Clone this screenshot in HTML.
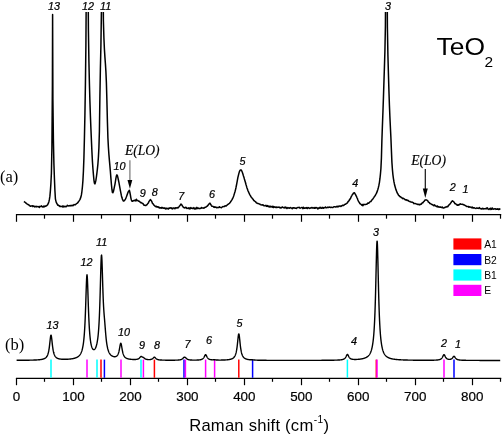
<!DOCTYPE html>
<html><head><meta charset="utf-8"><title>TeO2 Raman</title>
<style>html,body{margin:0;padding:0;background:#fff}svg{display:block}</style></head>
<body>
<svg width="502" height="435" viewBox="0 0 502 435">
<rect width="502" height="435" fill="#fff"/>
<g stroke="#000" stroke-width="1.2" fill="none"><path d="M15.90 214.70 H501.26"/><path d="M16.50 214.70 v7.10"/><path d="M44.50 214.70 v4.00"/><path d="M73.50 214.70 v7.10"/><path d="M101.50 214.70 v4.00"/><path d="M130.50 214.70 v7.10"/><path d="M158.50 214.70 v4.00"/><path d="M187.50 214.70 v7.10"/><path d="M215.50 214.70 v4.00"/><path d="M244.50 214.70 v7.10"/><path d="M272.50 214.70 v4.00"/><path d="M301.50 214.70 v7.10"/><path d="M329.50 214.70 v4.00"/><path d="M358.50 214.70 v7.10"/><path d="M386.50 214.70 v4.00"/><path d="M415.50 214.70 v7.10"/><path d="M443.50 214.70 v4.00"/><path d="M472.50 214.70 v7.10"/><path d="M500.50 214.70 v4.00"/></g>
<g stroke="#000" stroke-width="1.2" fill="none"><path d="M15.90 378.40 H501.26"/><path d="M16.50 378.40 v6.80"/><path d="M44.50 378.40 v3.40"/><path d="M73.50 378.40 v6.80"/><path d="M101.50 378.40 v3.40"/><path d="M130.50 378.40 v6.80"/><path d="M158.50 378.40 v3.40"/><path d="M187.50 378.40 v6.80"/><path d="M215.50 378.40 v3.40"/><path d="M244.50 378.40 v6.80"/><path d="M272.50 378.40 v3.40"/><path d="M301.50 378.40 v6.80"/><path d="M329.50 378.40 v3.40"/><path d="M358.50 378.40 v6.80"/><path d="M386.50 378.40 v3.40"/><path d="M415.50 378.40 v6.80"/><path d="M443.50 378.40 v3.40"/><path d="M472.50 378.40 v6.80"/><path d="M500.50 378.40 v3.40"/></g>
<path d="M51.00 359.6 V377.8" stroke="#00ffff" stroke-width="1.5"/>
<path d="M87.00 359.6 V377.8" stroke="#ff00ff" stroke-width="1.5"/>
<path d="M97.00 359.6 V377.8" stroke="#00ffff" stroke-width="1.5"/>
<path d="M101.00 359.6 V377.8" stroke="#ff0000" stroke-width="1.5"/>
<path d="M104.40 359.6 V377.8" stroke="#0000ff" stroke-width="1.5"/>
<path d="M121.00 359.6 V377.8" stroke="#ff00ff" stroke-width="1.5"/>
<path d="M141.00 359.6 V377.8" stroke="#00ffff" stroke-width="1.5"/>
<path d="M143.40 359.6 V377.8" stroke="#ff00ff" stroke-width="1.5"/>
<path d="M154.40 359.6 V377.8" stroke="#ff0000" stroke-width="1.5"/>
<path d="M184.00 359.6 V377.8" stroke="#0000ff" stroke-width="1.5"/>
<path d="M185.40 359.6 V377.8" stroke="#ff00ff" stroke-width="1.5"/>
<path d="M205.60 359.6 V377.8" stroke="#ff00ff" stroke-width="1.5"/>
<path d="M214.60 359.6 V377.8" stroke="#ff00ff" stroke-width="1.5"/>
<path d="M238.80 359.6 V377.8" stroke="#ff0000" stroke-width="1.5"/>
<path d="M252.60 359.6 V377.8" stroke="#0000ff" stroke-width="1.5"/>
<path d="M347.40 359.6 V377.8" stroke="#00ffff" stroke-width="1.5"/>
<path d="M376.30 359.6 V377.8" stroke="#ff0000" stroke-width="1.5"/>
<path d="M377.00 359.6 V377.8" stroke="#ff00ff" stroke-width="1.5"/>
<path d="M444.00 359.6 V377.8" stroke="#ff00ff" stroke-width="1.5"/>
<path d="M454.00 359.6 V377.8" stroke="#0000ff" stroke-width="1.5"/>
<path d="M23.90 201.50 L24.40 201.81 L24.90 202.26 L25.40 202.37 L25.90 203.09 L26.40 203.47 L26.90 203.89 L27.40 204.10 L27.90 204.53 L28.40 204.72 L28.90 204.81 L29.40 205.59 L29.90 205.83 L30.40 206.27 L30.90 205.97 L31.40 205.93 L31.90 205.98 L32.40 205.73 L32.90 206.62 L33.40 206.00 L33.90 206.03 L34.40 206.41 L34.90 207.03 L35.40 206.64 L35.90 206.23 L36.40 206.37 L36.90 206.88 L37.40 206.62 L37.90 206.43 L38.40 206.65 L38.90 207.03 L39.40 207.50 L39.90 206.33 L40.40 206.56 L40.90 206.49 L41.40 205.89 L41.90 206.45 L42.40 206.40 L42.90 207.13 L43.40 206.65 L43.90 206.10 L44.40 206.79 L44.90 206.40 L45.40 205.90 L45.90 206.16 L46.40 205.91 L46.90 205.45 L47.40 205.04 L47.90 204.08 L48.40 203.22 L48.90 201.64 L49.40 199.39 L49.90 196.19 L50.40 190.69 L50.90 183.48 L51.40 173.25 L51.90 148.35 L52.40 85.47 L52.60 14.50 L52.90 100.00 L53.40 140.01 L53.90 163.53 L54.40 178.01 L54.90 190.34 L55.40 198.83 L55.90 201.11 L56.40 202.69 L56.90 203.59 L57.40 204.47 L57.90 205.24 L58.40 205.05 L58.90 205.78 L59.40 205.80 L59.90 206.51 L60.40 206.32 L60.90 206.49 L61.40 206.59 L61.90 206.56 L62.40 206.08 L62.90 207.09 L63.40 206.08 L63.90 206.68 L64.40 206.79 L64.90 206.24 L65.40 206.54 L65.90 206.83 L66.40 206.37 L66.90 206.02 L67.40 205.30 L67.90 205.85 L68.40 205.89 L68.90 205.83 L69.40 205.60 L69.90 205.94 L70.40 205.55 L70.90 205.61 L71.40 205.75 L71.90 205.18 L72.40 205.24 L72.90 205.83 L73.40 205.31 L73.90 204.56 L74.40 204.73 L74.90 204.71 L75.40 204.68 L75.90 204.18 L76.40 203.77 L76.90 203.39 L77.40 203.16 L77.90 202.54 L78.40 201.77 L78.90 201.12 L79.40 200.34 L79.90 199.61 L80.40 198.38 L80.90 197.07 L81.40 194.94 L81.90 191.52 L82.40 186.99 L82.90 180.84 L83.40 171.51 L83.90 158.36 L84.40 138.84 L84.90 115.37 L85.40 85.00 L85.90 44.94 L86.13 12.00 M88.29 12.00 L88.40 29.23 L88.90 61.00 L89.40 83.01 L89.90 100.91 L90.40 115.73 L90.90 128.41 L91.40 139.99 L91.90 151.17 L92.40 160.97 L92.90 168.21 L93.40 174.42 L93.90 179.79 L94.40 183.18 L94.90 183.95 L95.40 182.44 L95.90 180.22 L96.40 177.00 L96.90 173.11 L97.40 168.82 L97.90 164.02 L98.40 157.31 L98.90 147.67 L99.40 131.43 L99.90 96.35 L100.40 67.85 L100.90 45.91 L101.40 12.00 M103.34 12.00 L103.40 20.90 L103.90 37.85 L104.40 49.06 L104.90 56.84 L105.40 63.63 L105.90 71.51 L106.40 82.98 L106.90 100.73 L107.40 121.24 L107.90 137.78 L108.40 147.20 L108.90 154.37 L109.40 160.35 L109.90 165.87 L110.40 171.80 L110.90 178.16 L111.40 184.25 L111.90 189.22 L112.40 192.33 L112.90 192.79 L113.40 191.56 L113.90 189.35 L114.40 186.82 L114.90 184.54 L115.40 181.60 L115.90 178.44 L116.40 175.81 L116.90 174.88 L117.40 175.74 L117.90 177.68 L118.40 179.97 L118.90 182.36 L119.40 185.17 L119.90 187.86 L120.40 190.64 L120.90 193.23 L121.40 195.72 L121.90 197.61 L122.40 199.11 L122.90 200.20 L123.40 201.04 L123.90 201.12 L124.40 200.54 L124.90 199.93 L125.40 199.08 L125.90 198.05 L126.40 196.83 L126.90 195.49 L127.40 194.10 L127.90 192.64 L128.40 191.53 L128.90 190.93 L129.40 190.32 L129.90 192.50 L130.40 195.14 L130.90 198.11 L131.40 199.99 L131.90 201.08 L132.40 201.31 L132.90 200.96 L133.40 200.71 L133.90 200.58 L134.40 200.20 L134.90 200.73 L135.40 200.14 L135.90 200.84 L136.40 199.31 L136.90 200.30 L137.40 200.54 L137.90 200.49 L138.40 201.07 L138.90 201.24 L139.40 201.31 L139.90 201.78 L140.40 202.62 L140.90 202.47 L141.40 202.85 L141.90 203.04 L142.40 203.50 L142.90 203.60 L143.40 204.21 L143.90 205.13 L144.40 205.17 L144.90 205.30 L145.40 205.60 L145.90 205.58 L146.40 204.92 L146.90 204.77 L147.40 204.09 L147.90 203.42 L148.40 203.01 L148.90 201.60 L149.40 200.87 L149.90 200.25 L150.40 199.55 L150.90 200.17 L151.40 200.87 L151.90 201.83 L152.40 203.19 L152.90 203.66 L153.40 204.25 L153.90 205.12 L154.40 205.45 L154.90 206.09 L155.40 206.26 L155.90 206.82 L156.40 206.23 L156.90 206.99 L157.40 206.97 L157.90 206.74 L158.40 207.52 L158.90 207.09 L159.40 207.94 L159.90 207.74 L160.40 207.90 L160.90 207.80 L161.40 208.15 L161.90 207.28 L162.40 207.99 L162.90 207.80 L163.40 208.15 L163.90 208.09 L164.40 208.36 L164.90 207.90 L165.40 208.87 L165.90 209.07 L166.40 208.22 L166.90 208.31 L167.40 208.45 L167.90 208.82 L168.40 209.08 L168.90 207.94 L169.40 208.17 L169.90 208.00 L170.40 207.98 L170.90 207.78 L171.40 208.53 L171.90 207.95 L172.40 208.93 L172.90 208.70 L173.40 207.97 L173.90 207.96 L174.40 208.10 L174.90 208.80 L175.40 207.98 L175.90 207.73 L176.40 208.07 L176.90 208.04 L177.40 207.59 L177.90 207.98 L178.40 207.40 L178.90 206.98 L179.40 206.14 L179.90 205.57 L180.40 204.95 L180.90 203.99 L181.40 204.76 L181.90 204.93 L182.40 205.93 L182.90 206.43 L183.40 207.57 L183.90 207.44 L184.40 207.76 L184.90 207.93 L185.40 207.41 L185.90 207.22 L186.40 207.91 L186.90 208.38 L187.40 208.18 L187.90 208.47 L188.40 208.56 L188.90 207.73 L189.40 208.39 L189.90 209.02 L190.40 208.14 L190.90 207.64 L191.40 208.31 L191.90 208.25 L192.40 208.59 L192.90 208.12 L193.40 208.50 L193.90 207.66 L194.40 208.80 L194.90 209.09 L195.40 208.99 L195.90 207.92 L196.40 208.62 L196.90 207.38 L197.40 208.58 L197.90 208.43 L198.40 208.08 L198.90 208.53 L199.40 208.42 L199.90 208.66 L200.40 208.33 L200.90 208.32 L201.40 207.53 L201.90 207.75 L202.40 207.92 L202.90 208.11 L203.40 207.93 L203.90 208.26 L204.40 207.44 L204.90 207.43 L205.40 207.35 L205.90 207.00 L206.40 206.84 L206.90 206.20 L207.40 206.04 L207.90 205.25 L208.40 204.82 L208.90 203.97 L209.40 203.84 L209.90 203.11 L210.40 204.04 L210.90 204.71 L211.40 205.60 L211.90 206.30 L212.40 206.15 L212.90 206.38 L213.40 206.69 L213.90 207.20 L214.40 206.73 L214.90 207.41 L215.40 207.08 L215.90 207.20 L216.40 207.51 L216.90 207.81 L217.40 207.46 L217.90 207.51 L218.40 207.64 L218.90 207.51 L219.40 206.68 L219.90 207.31 L220.40 207.37 L220.90 207.57 L221.40 207.75 L221.90 207.22 L222.40 206.93 L222.90 206.49 L223.40 206.62 L223.90 206.63 L224.40 206.56 L224.90 205.81 L225.40 205.90 L225.90 205.85 L226.40 205.88 L226.90 205.24 L227.40 204.79 L227.90 204.46 L228.40 204.16 L228.90 203.66 L229.40 203.39 L229.90 202.84 L230.40 202.14 L230.90 201.50 L231.40 200.53 L231.90 199.85 L232.40 198.85 L232.90 197.83 L233.40 196.73 L233.90 195.28 L234.40 193.65 L234.90 192.05 L235.40 190.11 L235.90 187.97 L236.40 185.52 L236.90 182.80 L237.40 180.03 L237.90 177.41 L238.40 175.34 L238.90 173.34 L239.40 171.61 L239.90 170.70 L240.40 169.94 L240.90 169.90 L241.40 170.22 L241.90 171.28 L242.40 172.50 L242.90 174.00 L243.40 175.70 L243.90 177.15 L244.40 179.01 L244.90 180.66 L245.40 182.25 L245.90 184.19 L246.40 185.90 L246.90 187.65 L247.40 189.05 L247.90 190.50 L248.40 191.67 L248.90 192.77 L249.40 193.97 L249.90 194.85 L250.40 195.63 L250.90 196.67 L251.40 197.22 L251.90 197.90 L252.40 198.59 L252.90 199.06 L253.40 199.78 L253.90 200.72 L254.40 200.73 L254.90 201.37 L255.40 201.61 L255.90 202.12 L256.40 202.93 L256.90 203.17 L257.40 203.15 L257.90 203.55 L258.40 203.57 L258.90 203.78 L259.40 203.93 L259.90 204.10 L260.40 204.60 L260.90 204.83 L261.40 204.94 L261.90 204.88 L262.40 204.66 L262.90 205.16 L263.40 205.02 L263.90 205.67 L264.40 205.69 L264.90 205.85 L265.40 205.62 L265.90 205.27 L266.40 206.22 L266.90 206.39 L267.40 205.63 L267.90 206.22 L268.40 206.64 L268.90 205.98 L269.40 206.98 L269.90 206.35 L270.40 206.18 L270.90 207.05 L271.40 206.77 L271.90 206.52 L272.40 207.09 L272.90 206.22 L273.40 207.53 L273.90 206.71 L274.40 207.14 L274.90 206.96 L275.40 207.30 L275.90 207.50 L276.40 206.97 L276.90 207.56 L277.40 207.23 L277.90 207.14 L278.40 207.33 L278.90 207.09 L279.40 207.19 L279.90 207.84 L280.40 207.46 L280.90 207.95 L281.40 207.72 L281.90 207.21 L282.40 206.91 L282.90 207.37 L283.40 207.74 L283.90 207.66 L284.40 207.38 L284.90 208.06 L285.40 207.08 L285.90 207.27 L286.40 207.79 L286.90 208.57 L287.40 207.93 L287.90 207.43 L288.40 208.03 L288.90 208.08 L289.40 208.19 L289.90 207.70 L290.40 207.57 L290.90 207.92 L291.40 208.05 L291.90 208.50 L292.40 208.69 L292.90 207.65 L293.40 207.74 L293.90 207.92 L294.40 207.86 L294.90 208.14 L295.40 208.15 L295.90 208.07 L296.40 208.48 L296.90 207.93 L297.40 207.59 L297.90 207.40 L298.40 207.61 L298.90 207.60 L299.40 207.29 L299.90 208.25 L300.40 208.07 L300.90 207.84 L301.40 207.66 L301.90 207.40 L302.40 207.65 L302.90 208.69 L303.40 207.16 L303.90 208.05 L304.40 208.27 L304.90 208.04 L305.40 207.86 L305.90 208.27 L306.40 207.56 L306.90 208.18 L307.40 208.51 L307.90 207.57 L308.40 207.65 L308.90 208.01 L309.40 208.32 L309.90 208.45 L310.40 208.20 L310.90 207.69 L311.40 207.51 L311.90 208.02 L312.40 208.07 L312.90 207.50 L313.40 207.93 L313.90 208.02 L314.40 208.28 L314.90 207.52 L315.40 208.09 L315.90 207.43 L316.40 207.70 L316.90 207.82 L317.40 208.41 L317.90 209.07 L318.40 207.92 L318.90 208.00 L319.40 208.19 L319.90 207.30 L320.40 208.07 L320.90 207.32 L321.40 208.35 L321.90 208.26 L322.40 207.90 L322.90 207.41 L323.40 208.26 L323.90 207.73 L324.40 207.65 L324.90 207.78 L325.40 206.94 L325.90 207.66 L326.40 207.82 L326.90 207.55 L327.40 207.45 L327.90 207.03 L328.40 207.55 L328.90 207.35 L329.40 207.25 L329.90 207.01 L330.40 207.47 L330.90 207.57 L331.40 207.23 L331.90 207.37 L332.40 207.49 L332.90 207.54 L333.40 207.02 L333.90 206.83 L334.40 206.72 L334.90 206.83 L335.40 206.96 L335.90 207.05 L336.40 206.53 L336.90 206.67 L337.40 206.23 L337.90 206.92 L338.40 206.31 L338.90 206.49 L339.40 206.06 L339.90 206.12 L340.40 205.92 L340.90 206.54 L341.40 206.01 L341.90 205.73 L342.40 205.36 L342.90 205.29 L343.40 205.41 L343.90 205.48 L344.40 204.49 L344.90 204.38 L345.40 204.30 L345.90 203.92 L346.40 203.40 L346.90 203.27 L347.40 202.84 L347.90 201.86 L348.40 201.43 L348.90 200.79 L349.40 200.04 L349.90 199.09 L350.40 198.62 L350.90 197.44 L351.40 196.28 L351.90 195.55 L352.40 194.48 L352.90 194.10 L353.40 193.11 L353.90 193.08 L354.40 192.72 L354.90 193.57 L355.40 194.42 L355.90 195.37 L356.40 196.29 L356.90 197.55 L357.40 198.53 L357.90 199.98 L358.40 201.08 L358.90 201.95 L359.40 202.61 L359.90 203.66 L360.40 203.65 L360.90 204.27 L361.40 204.57 L361.90 205.23 L362.40 204.45 L362.90 205.74 L363.40 204.83 L363.90 204.29 L364.40 204.53 L364.90 204.63 L365.40 204.56 L365.90 204.32 L366.40 204.37 L366.90 203.95 L367.40 203.73 L367.90 202.99 L368.40 203.34 L368.90 203.15 L369.40 202.52 L369.90 201.88 L370.40 201.59 L370.90 201.62 L371.40 200.69 L371.90 200.09 L372.40 199.42 L372.90 198.97 L373.40 198.09 L373.90 197.34 L374.40 196.52 L374.90 195.95 L375.40 195.28 L375.90 194.24 L376.40 193.36 L376.90 192.16 L377.40 190.87 L377.90 189.31 L378.40 187.41 L378.90 185.22 L379.40 182.55 L379.90 178.97 L380.40 174.43 L380.90 168.73 L381.40 158.34 L381.90 140.00 L382.40 126.05 L382.90 112.80 L383.40 98.60 L383.90 83.01 L384.40 67.83 L384.90 51.54 L385.40 26.32 L385.48 12.00 M387.32 12.00 L387.40 27.60 L387.90 54.88 L388.40 72.85 L388.90 89.88 L389.40 104.77 L389.90 117.07 L390.40 127.48 L390.90 137.79 L391.40 150.16 L391.90 162.10 L392.40 169.32 L392.90 174.59 L393.40 178.29 L393.90 181.49 L394.40 183.97 L394.90 185.97 L395.40 187.81 L395.90 189.62 L396.40 190.81 L396.90 192.15 L397.40 193.30 L397.90 193.95 L398.40 194.95 L398.90 195.67 L399.40 195.81 L399.90 196.64 L400.40 196.69 L400.90 197.05 L401.40 197.65 L401.90 197.97 L402.40 198.06 L402.90 198.65 L403.40 198.33 L403.90 198.70 L404.40 198.86 L404.90 199.54 L405.40 199.78 L405.90 199.97 L406.40 199.69 L406.90 200.26 L407.40 200.55 L407.90 200.22 L408.40 200.63 L408.90 201.21 L409.40 201.43 L409.90 201.51 L410.40 201.78 L410.90 201.92 L411.40 202.08 L411.90 202.21 L412.40 202.22 L412.90 202.60 L413.40 202.79 L413.90 203.69 L414.40 203.39 L414.90 203.50 L415.40 203.59 L415.90 203.77 L416.40 203.87 L416.90 204.25 L417.40 204.21 L417.90 204.58 L418.40 204.23 L418.90 204.64 L419.40 204.88 L419.90 204.18 L420.40 204.58 L420.90 204.35 L421.40 203.87 L421.90 203.40 L422.40 202.69 L422.90 202.79 L423.40 201.97 L423.90 201.35 L424.40 201.02 L424.90 200.03 L425.40 200.12 L425.90 199.85 L426.40 199.95 L426.90 200.13 L427.40 200.49 L427.90 201.01 L428.40 202.14 L428.90 202.33 L429.40 202.71 L429.90 203.52 L430.40 203.46 L430.90 203.90 L431.40 204.24 L431.90 204.57 L432.40 204.61 L432.90 204.94 L433.40 205.62 L433.90 205.67 L434.40 204.84 L434.90 205.27 L435.40 206.06 L435.90 206.07 L436.40 206.13 L436.90 206.67 L437.40 205.94 L437.90 206.94 L438.40 206.72 L438.90 206.95 L439.40 206.97 L439.90 207.25 L440.40 207.01 L440.90 207.01 L441.40 207.52 L441.90 207.40 L442.40 206.98 L442.90 207.92 L443.40 207.92 L443.90 208.05 L444.40 207.51 L444.90 207.52 L445.40 207.19 L445.90 206.89 L446.40 206.99 L446.90 206.81 L447.40 206.39 L447.90 206.62 L448.40 205.53 L448.90 205.12 L449.40 204.52 L449.90 204.19 L450.40 203.37 L450.90 202.77 L451.40 202.00 L451.90 201.36 L452.40 200.74 L452.90 201.21 L453.40 201.38 L453.90 202.10 L454.40 202.67 L454.90 203.82 L455.40 203.67 L455.90 203.90 L456.40 204.61 L456.90 204.97 L457.40 205.28 L457.90 204.62 L458.40 205.01 L458.90 205.17 L459.40 204.30 L459.90 204.20 L460.40 203.80 L460.90 204.28 L461.40 204.37 L461.90 204.29 L462.40 204.29 L462.90 204.48 L463.40 204.42 L463.90 204.95 L464.40 204.95 L464.90 205.27 L465.40 205.73 L465.90 205.66 L466.40 206.22 L466.90 206.62 L467.40 206.53 L467.90 206.38 L468.40 206.51 L468.90 207.26 L469.40 206.74 L469.90 207.11 L470.40 207.11 L470.90 207.30 L471.40 207.72 L471.90 207.29 L472.40 207.09 L472.90 208.09 L473.40 207.77 L473.90 208.00 L474.40 207.82 L474.90 208.14 L475.40 208.37 L475.90 208.46 L476.40 207.94 L476.90 207.96 L477.40 208.26 L477.90 208.24 L478.40 208.40 L478.90 208.00 L479.40 207.47 L479.90 208.47 L480.40 208.63 L480.90 208.61 L481.40 209.00 L481.90 208.75 L482.40 208.33 L482.90 208.85 L483.40 208.49 L483.90 209.00 L484.40 208.66 L484.90 208.76 L485.40 208.70 L485.90 208.66 L486.40 208.12 L486.90 208.70 L487.40 207.88 L487.90 208.91 L488.40 209.11 L488.90 209.51 L489.40 208.92 L489.90 208.55 L490.40 208.25 L490.90 209.56 L491.40 208.35 L491.90 209.21 L492.40 208.06 L492.90 208.90 L493.40 209.19 L493.90 209.07 L494.40 208.95 L494.90 208.68 L495.40 208.67 L495.90 209.38 L496.40 209.19 L496.90 208.98 L497.40 209.13 L497.90 208.72 L498.40 209.45 L498.90 209.55 L499.40 208.79 L499.90 209.13 L500.40 209.49 " fill="none" stroke="#000" stroke-width="1.5" stroke-linejoin="round"/>
<path d="M16.60 360.32 L16.80 360.32 L17.00 360.32 L17.20 360.32 L17.40 360.32 L17.60 360.32 L17.80 360.31 L18.00 360.31 L18.20 360.31 L18.40 360.31 L18.60 360.31 L18.80 360.31 L19.00 360.31 L19.20 360.30 L19.40 360.30 L19.60 360.30 L19.80 360.30 L20.00 360.30 L20.20 360.30 L20.40 360.29 L20.60 360.29 L20.80 360.29 L21.00 360.29 L21.20 360.29 L21.40 360.29 L21.60 360.28 L21.80 360.28 L22.00 360.28 L22.20 360.28 L22.40 360.28 L22.60 360.27 L22.80 360.27 L23.00 360.27 L23.20 360.27 L23.40 360.27 L23.60 360.26 L23.80 360.26 L24.00 360.26 L24.20 360.26 L24.40 360.25 L24.60 360.25 L24.80 360.25 L25.00 360.25 L25.20 360.24 L25.40 360.24 L25.60 360.24 L25.80 360.24 L26.00 360.23 L26.20 360.23 L26.40 360.23 L26.60 360.23 L26.80 360.22 L27.00 360.22 L27.20 360.22 L27.40 360.21 L27.60 360.21 L27.80 360.21 L28.00 360.20 L28.20 360.20 L28.40 360.20 L28.60 360.19 L28.80 360.19 L29.00 360.19 L29.20 360.18 L29.40 360.18 L29.60 360.17 L29.80 360.17 L30.00 360.17 L30.20 360.16 L30.40 360.16 L30.60 360.15 L30.80 360.15 L31.00 360.14 L31.20 360.14 L31.40 360.13 L31.60 360.13 L31.80 360.12 L32.00 360.12 L32.20 360.11 L32.40 360.11 L32.60 360.10 L32.80 360.09 L33.00 360.09 L33.20 360.08 L33.40 360.08 L33.60 360.07 L33.80 360.06 L34.00 360.05 L34.20 360.05 L34.40 360.04 L34.60 360.03 L34.80 360.02 L35.00 360.01 L35.20 360.01 L35.40 360.00 L35.60 359.99 L35.80 359.98 L36.00 359.97 L36.20 359.96 L36.40 359.95 L36.60 359.94 L36.80 359.92 L37.00 359.91 L37.20 359.90 L37.40 359.89 L37.60 359.87 L37.80 359.86 L38.00 359.84 L38.20 359.83 L38.40 359.81 L38.60 359.80 L38.80 359.78 L39.00 359.76 L39.20 359.74 L39.40 359.72 L39.60 359.70 L39.80 359.68 L40.00 359.66 L40.20 359.63 L40.40 359.61 L40.60 359.58 L40.80 359.55 L41.00 359.52 L41.20 359.49 L41.40 359.46 L41.60 359.42 L41.80 359.39 L42.00 359.35 L42.20 359.30 L42.40 359.26 L42.60 359.21 L42.80 359.16 L43.00 359.11 L43.20 359.05 L43.40 358.98 L43.60 358.92 L43.80 358.84 L44.00 358.77 L44.20 358.68 L44.40 358.59 L44.60 358.49 L44.80 358.38 L45.00 358.27 L45.20 358.14 L45.40 358.00 L45.60 357.84 L45.80 357.67 L46.00 357.49 L46.20 357.28 L46.40 357.05 L46.60 356.79 L46.80 356.51 L47.00 356.19 L47.20 355.83 L47.40 355.42 L47.60 354.96 L47.80 354.44 L48.00 353.84 L48.20 353.16 L48.40 352.39 L48.60 351.50 L48.80 350.49 L49.00 349.33 L49.20 348.02 L49.40 346.55 L49.60 344.92 L49.80 343.16 L50.00 341.31 L50.20 339.48 L50.40 337.78 L50.60 336.39 L50.80 335.47 L51.00 335.14 L51.20 335.46 L51.40 336.38 L51.60 337.76 L51.80 339.45 L52.00 341.28 L52.20 343.12 L52.40 344.88 L52.60 346.50 L52.80 347.96 L53.00 349.27 L53.20 350.42 L53.40 351.42 L53.60 352.30 L53.80 353.07 L54.00 353.74 L54.20 354.33 L54.40 354.84 L54.60 355.30 L54.80 355.70 L55.00 356.05 L55.20 356.36 L55.40 356.64 L55.60 356.89 L55.80 357.11 L56.00 357.31 L56.20 357.49 L56.40 357.66 L56.60 357.80 L56.80 357.93 L57.00 358.06 L57.20 358.17 L57.40 358.27 L57.60 358.36 L57.80 358.44 L58.00 358.52 L58.20 358.59 L58.40 358.65 L58.60 358.71 L58.80 358.76 L59.00 358.81 L59.20 358.86 L59.40 358.90 L59.60 358.94 L59.80 358.98 L60.00 359.01 L60.20 359.04 L60.40 359.07 L60.60 359.09 L60.80 359.12 L61.00 359.14 L61.20 359.16 L61.40 359.18 L61.60 359.19 L61.80 359.21 L62.00 359.22 L62.20 359.24 L62.40 359.25 L62.60 359.26 L62.80 359.27 L63.00 359.27 L63.20 359.28 L63.40 359.29 L63.60 359.29 L63.80 359.29 L64.00 359.30 L64.20 359.30 L64.40 359.30 L64.60 359.30 L64.80 359.30 L65.00 359.30 L65.20 359.30 L65.40 359.29 L65.60 359.29 L65.80 359.28 L66.00 359.28 L66.20 359.27 L66.40 359.27 L66.60 359.26 L66.80 359.25 L67.00 359.24 L67.20 359.23 L67.40 359.22 L67.60 359.21 L67.80 359.20 L68.00 359.19 L68.20 359.18 L68.40 359.16 L68.60 359.15 L68.80 359.13 L69.00 359.12 L69.20 359.10 L69.40 359.08 L69.60 359.07 L69.80 359.05 L70.00 359.03 L70.20 359.00 L70.40 358.98 L70.60 358.96 L70.80 358.94 L71.00 358.91 L71.20 358.88 L71.40 358.86 L71.60 358.83 L71.80 358.80 L72.00 358.77 L72.20 358.73 L72.40 358.70 L72.60 358.66 L72.80 358.63 L73.00 358.59 L73.20 358.55 L73.40 358.51 L73.60 358.46 L73.80 358.41 L74.00 358.37 L74.20 358.32 L74.40 358.26 L74.60 358.21 L74.80 358.15 L75.00 358.09 L75.20 358.02 L75.40 357.96 L75.60 357.89 L75.80 357.81 L76.00 357.73 L76.20 357.65 L76.40 357.56 L76.60 357.47 L76.80 357.38 L77.00 357.27 L77.20 357.17 L77.40 357.05 L77.60 356.93 L77.80 356.80 L78.00 356.67 L78.20 356.52 L78.40 356.37 L78.60 356.21 L78.80 356.03 L79.00 355.84 L79.20 355.64 L79.40 355.43 L79.60 355.20 L79.80 354.95 L80.00 354.68 L80.20 354.39 L80.40 354.08 L80.60 353.74 L80.80 353.37 L81.00 352.96 L81.20 352.53 L81.40 352.05 L81.60 351.52 L81.80 350.94 L82.00 350.30 L82.20 349.60 L82.40 348.81 L82.60 347.94 L82.80 346.97 L83.00 345.88 L83.20 344.65 L83.40 343.28 L83.60 341.72 L83.80 339.95 L84.00 337.93 L84.20 335.64 L84.40 333.02 L84.60 330.02 L84.80 326.60 L85.00 322.70 L85.20 318.28 L85.40 313.31 L85.60 307.81 L85.80 301.86 L86.00 295.64 L86.20 289.45 L86.40 283.73 L86.60 279.02 L86.80 275.89 L87.00 274.77 L87.20 275.81 L87.40 278.85 L87.60 283.46 L87.80 289.10 L88.00 295.20 L88.20 301.34 L88.40 307.19 L88.60 312.60 L88.80 317.47 L89.00 321.80 L89.20 325.60 L89.40 328.93 L89.60 331.82 L89.80 334.33 L90.00 336.52 L90.20 338.42 L90.40 340.07 L90.60 341.51 L90.80 342.77 L91.00 343.86 L91.20 344.81 L91.40 345.65 L91.60 346.37 L91.80 347.00 L92.00 347.54 L92.20 348.01 L92.40 348.40 L92.60 348.74 L92.80 349.02 L93.00 349.24 L93.20 349.41 L93.40 349.54 L93.60 349.62 L93.80 349.65 L94.00 349.64 L94.20 349.58 L94.40 349.49 L94.60 349.34 L94.80 349.15 L95.00 348.91 L95.20 348.62 L95.40 348.27 L95.60 347.86 L95.80 347.40 L96.00 346.86 L96.20 346.26 L96.40 345.59 L96.60 344.84 L96.80 344.02 L97.00 343.10 L97.20 342.09 L97.40 340.96 L97.60 339.68 L97.80 338.24 L98.00 336.59 L98.20 334.70 L98.40 332.53 L98.60 330.04 L98.80 327.16 L99.00 323.86 L99.20 320.06 L99.40 315.71 L99.60 310.73 L99.80 305.10 L100.00 298.80 L100.20 291.88 L100.40 284.49 L100.60 276.92 L100.80 269.59 L101.00 263.12 L101.20 258.17 L101.40 255.36 L101.60 255.04 L101.80 257.21 L102.00 261.50 L102.20 267.28 L102.40 273.86 L102.60 280.64 L102.80 287.16 L103.00 293.13 L103.20 298.41 L103.40 302.95 L103.60 306.81 L103.80 310.07 L104.00 312.87 L104.20 315.38 L104.40 317.75 L104.60 320.11 L104.80 322.55 L105.00 325.07 L105.20 327.65 L105.40 330.20 L105.60 332.67 L105.80 335.00 L106.00 337.14 L106.20 339.09 L106.40 340.85 L106.60 342.43 L106.80 343.83 L107.00 345.08 L107.20 346.20 L107.40 347.20 L107.60 348.10 L107.80 348.90 L108.00 349.62 L108.20 350.27 L108.40 350.86 L108.60 351.39 L108.80 351.88 L109.00 352.32 L109.20 352.72 L109.40 353.09 L109.60 353.43 L109.80 353.74 L110.00 354.03 L110.20 354.29 L110.40 354.53 L110.60 354.75 L110.80 354.96 L111.00 355.15 L111.20 355.33 L111.40 355.49 L111.60 355.64 L111.80 355.78 L112.00 355.90 L112.20 356.02 L112.40 356.13 L112.60 356.22 L112.80 356.31 L113.00 356.39 L113.20 356.46 L113.40 356.52 L113.60 356.57 L113.80 356.62 L114.00 356.65 L114.20 356.68 L114.40 356.70 L114.60 356.71 L114.80 356.71 L115.00 356.70 L115.20 356.68 L115.40 356.64 L115.60 356.60 L115.80 356.54 L116.00 356.46 L116.20 356.37 L116.40 356.26 L116.60 356.13 L116.80 355.97 L117.00 355.79 L117.20 355.57 L117.40 355.32 L117.60 355.03 L117.80 354.69 L118.00 354.30 L118.20 353.84 L118.40 353.31 L118.60 352.70 L118.80 351.99 L119.00 351.19 L119.20 350.28 L119.40 349.27 L119.60 348.17 L119.80 347.02 L120.00 345.87 L120.20 344.82 L120.40 343.95 L120.60 343.39 L120.80 343.21 L121.00 343.44 L121.20 344.05 L121.40 344.96 L121.60 346.06 L121.80 347.25 L122.00 348.45 L122.20 349.60 L122.40 350.65 L122.60 351.61 L122.80 352.47 L123.00 353.22 L123.20 353.88 L123.40 354.46 L123.60 354.97 L123.80 355.42 L124.00 355.81 L124.20 356.16 L124.40 356.47 L124.60 356.74 L124.80 356.98 L125.00 357.20 L125.20 357.39 L125.40 357.56 L125.60 357.72 L125.80 357.86 L126.00 357.99 L126.20 358.11 L126.40 358.22 L126.60 358.31 L126.80 358.40 L127.00 358.49 L127.20 358.56 L127.40 358.63 L127.60 358.70 L127.80 358.76 L128.00 358.81 L128.20 358.87 L128.40 358.91 L128.60 358.96 L128.80 359.00 L129.00 359.04 L129.20 359.08 L129.40 359.11 L129.60 359.15 L129.80 359.18 L130.00 359.20 L130.20 359.23 L130.40 359.26 L130.60 359.28 L130.80 359.30 L131.00 359.32 L131.20 359.34 L131.40 359.36 L131.60 359.38 L131.80 359.39 L132.00 359.40 L132.20 359.42 L132.40 359.43 L132.60 359.44 L132.80 359.45 L133.00 359.46 L133.20 359.46 L133.40 359.47 L133.60 359.47 L133.80 359.48 L134.00 359.48 L134.20 359.48 L134.40 359.48 L134.60 359.48 L134.80 359.47 L135.00 359.47 L135.20 359.46 L135.40 359.45 L135.60 359.44 L135.80 359.43 L136.00 359.41 L136.20 359.39 L136.40 359.37 L136.60 359.34 L136.80 359.31 L137.00 359.27 L137.20 359.23 L137.40 359.18 L137.60 359.13 L137.80 359.07 L138.00 358.99 L138.20 358.91 L138.40 358.81 L138.60 358.70 L138.80 358.57 L139.00 358.42 L139.20 358.25 L139.40 358.06 L139.60 357.85 L139.80 357.62 L140.00 357.38 L140.20 357.13 L140.40 356.90 L140.60 356.69 L140.80 356.54 L141.00 356.45 L141.20 356.44 L141.40 356.48 L141.60 356.57 L141.80 356.69 L142.00 356.81 L142.20 356.93 L142.40 357.04 L142.60 357.12 L142.80 357.20 L143.00 357.28 L143.20 357.36 L143.40 357.47 L143.60 357.59 L143.80 357.74 L144.00 357.91 L144.20 358.08 L144.40 358.25 L144.60 358.42 L144.80 358.57 L145.00 358.71 L145.20 358.84 L145.40 358.95 L145.60 359.05 L145.80 359.13 L146.00 359.21 L146.20 359.27 L146.40 359.33 L146.60 359.38 L146.80 359.43 L147.00 359.46 L147.20 359.50 L147.40 359.52 L147.60 359.55 L147.80 359.57 L148.00 359.58 L148.20 359.60 L148.40 359.61 L148.60 359.61 L148.80 359.62 L149.00 359.62 L149.20 359.61 L149.40 359.61 L149.60 359.60 L149.80 359.58 L150.00 359.57 L150.20 359.54 L150.40 359.52 L150.60 359.48 L150.80 359.45 L151.00 359.40 L151.20 359.35 L151.40 359.29 L151.60 359.21 L151.80 359.13 L152.00 359.03 L152.20 358.92 L152.40 358.78 L152.60 358.63 L152.80 358.46 L153.00 358.27 L153.20 358.07 L153.40 357.85 L153.60 357.64 L153.80 357.44 L154.00 357.28 L154.20 357.17 L154.40 357.14 L154.60 357.18 L154.80 357.30 L155.00 357.47 L155.20 357.67 L155.40 357.90 L155.60 358.12 L155.80 358.34 L156.00 358.53 L156.20 358.71 L156.40 358.87 L156.60 359.02 L156.80 359.14 L157.00 359.25 L157.20 359.34 L157.40 359.43 L157.60 359.50 L157.80 359.57 L158.00 359.62 L158.20 359.67 L158.40 359.72 L158.60 359.76 L158.80 359.80 L159.00 359.83 L159.20 359.86 L159.40 359.88 L159.60 359.91 L159.80 359.93 L160.00 359.95 L160.20 359.97 L160.40 359.99 L160.60 360.00 L160.80 360.02 L161.00 360.03 L161.20 360.04 L161.40 360.05 L161.60 360.06 L161.80 360.07 L162.00 360.08 L162.20 360.09 L162.40 360.10 L162.60 360.11 L162.80 360.11 L163.00 360.12 L163.20 360.13 L163.40 360.13 L163.60 360.14 L163.80 360.14 L164.00 360.15 L164.20 360.15 L164.40 360.16 L164.60 360.16 L164.80 360.17 L165.00 360.17 L165.20 360.17 L165.40 360.18 L165.60 360.18 L165.80 360.18 L166.00 360.18 L166.20 360.19 L166.40 360.19 L166.60 360.19 L166.80 360.19 L167.00 360.20 L167.20 360.20 L167.40 360.20 L167.60 360.20 L167.80 360.20 L168.00 360.21 L168.20 360.21 L168.40 360.21 L168.60 360.21 L168.80 360.21 L169.00 360.21 L169.20 360.21 L169.40 360.21 L169.60 360.21 L169.80 360.21 L170.00 360.21 L170.20 360.21 L170.40 360.21 L170.60 360.21 L170.80 360.21 L171.00 360.21 L171.20 360.21 L171.40 360.21 L171.60 360.21 L171.80 360.21 L172.00 360.21 L172.20 360.21 L172.40 360.21 L172.60 360.21 L172.80 360.21 L173.00 360.21 L173.20 360.20 L173.40 360.20 L173.60 360.20 L173.80 360.20 L174.00 360.19 L174.20 360.19 L174.40 360.19 L174.60 360.19 L174.80 360.18 L175.00 360.18 L175.20 360.17 L175.40 360.17 L175.60 360.17 L175.80 360.16 L176.00 360.15 L176.20 360.15 L176.40 360.14 L176.60 360.13 L176.80 360.13 L177.00 360.12 L177.20 360.11 L177.40 360.10 L177.60 360.09 L177.80 360.08 L178.00 360.06 L178.20 360.05 L178.40 360.03 L178.60 360.02 L178.80 360.00 L179.00 359.98 L179.20 359.96 L179.40 359.93 L179.60 359.90 L179.80 359.87 L180.00 359.84 L180.20 359.80 L180.40 359.75 L180.60 359.70 L180.80 359.65 L181.00 359.58 L181.20 359.51 L181.40 359.43 L181.60 359.34 L181.80 359.23 L182.00 359.11 L182.20 358.97 L182.40 358.81 L182.60 358.64 L182.80 358.45 L183.00 358.25 L183.20 358.04 L183.40 357.83 L183.60 357.63 L183.80 357.46 L184.00 357.33 L184.20 357.25 L184.40 357.20 L184.60 357.20 L184.80 357.22 L185.00 357.28 L185.20 357.37 L185.40 357.49 L185.60 357.64 L185.80 357.81 L186.00 358.01 L186.20 358.21 L186.40 358.40 L186.60 358.59 L186.80 358.77 L187.00 358.92 L187.20 359.06 L187.40 359.19 L187.60 359.30 L187.80 359.39 L188.00 359.48 L188.20 359.55 L188.40 359.62 L188.60 359.67 L188.80 359.72 L189.00 359.77 L189.20 359.81 L189.40 359.84 L189.60 359.87 L189.80 359.90 L190.00 359.93 L190.20 359.95 L190.40 359.97 L190.60 359.99 L190.80 360.00 L191.00 360.02 L191.20 360.03 L191.40 360.04 L191.60 360.05 L191.80 360.06 L192.00 360.07 L192.20 360.08 L192.40 360.08 L192.60 360.09 L192.80 360.09 L193.00 360.10 L193.20 360.10 L193.40 360.10 L193.60 360.11 L193.80 360.11 L194.00 360.11 L194.20 360.11 L194.40 360.11 L194.60 360.11 L194.80 360.11 L195.00 360.11 L195.20 360.11 L195.40 360.10 L195.60 360.10 L195.80 360.10 L196.00 360.09 L196.20 360.09 L196.40 360.08 L196.60 360.08 L196.80 360.07 L197.00 360.06 L197.20 360.05 L197.40 360.04 L197.60 360.03 L197.80 360.02 L198.00 360.01 L198.20 360.00 L198.40 359.98 L198.60 359.97 L198.80 359.95 L199.00 359.93 L199.20 359.91 L199.40 359.89 L199.60 359.86 L199.80 359.84 L200.00 359.81 L200.20 359.77 L200.40 359.74 L200.60 359.70 L200.80 359.65 L201.00 359.60 L201.20 359.54 L201.40 359.48 L201.60 359.41 L201.80 359.33 L202.00 359.24 L202.20 359.14 L202.40 359.02 L202.60 358.89 L202.80 358.74 L203.00 358.57 L203.20 358.37 L203.40 358.14 L203.60 357.88 L203.80 357.59 L204.00 357.26 L204.20 356.90 L204.40 356.50 L204.60 356.09 L204.80 355.68 L205.00 355.30 L205.20 354.99 L205.40 354.78 L205.60 354.71 L205.80 354.78 L206.00 354.98 L206.20 355.30 L206.40 355.67 L206.60 356.08 L206.80 356.49 L207.00 356.89 L207.20 357.25 L207.40 357.58 L207.60 357.87 L207.80 358.13 L208.00 358.35 L208.20 358.55 L208.40 358.72 L208.60 358.87 L208.80 359.00 L209.00 359.11 L209.20 359.21 L209.40 359.30 L209.60 359.38 L209.80 359.45 L210.00 359.51 L210.20 359.56 L210.40 359.60 L210.60 359.65 L210.80 359.68 L211.00 359.71 L211.20 359.74 L211.40 359.76 L211.60 359.78 L211.80 359.80 L212.00 359.81 L212.20 359.82 L212.40 359.83 L212.60 359.83 L212.80 359.83 L213.00 359.83 L213.20 359.82 L213.40 359.81 L213.60 359.80 L213.80 359.79 L214.00 359.78 L214.20 359.77 L214.40 359.77 L214.60 359.77 L214.80 359.78 L215.00 359.80 L215.20 359.82 L215.40 359.85 L215.60 359.87 L215.80 359.90 L216.00 359.92 L216.20 359.95 L216.40 359.97 L216.60 359.99 L216.80 360.00 L217.00 360.02 L217.20 360.03 L217.40 360.04 L217.60 360.05 L217.80 360.05 L218.00 360.06 L218.20 360.07 L218.40 360.07 L218.60 360.08 L218.80 360.08 L219.00 360.08 L219.20 360.08 L219.40 360.08 L219.60 360.08 L219.80 360.08 L220.00 360.08 L220.20 360.08 L220.40 360.08 L220.60 360.08 L220.80 360.08 L221.00 360.08 L221.20 360.07 L221.40 360.07 L221.60 360.07 L221.80 360.06 L222.00 360.06 L222.20 360.06 L222.40 360.05 L222.60 360.05 L222.80 360.04 L223.00 360.04 L223.20 360.03 L223.40 360.02 L223.60 360.02 L223.80 360.01 L224.00 360.00 L224.20 359.99 L224.40 359.98 L224.60 359.97 L224.80 359.96 L225.00 359.95 L225.20 359.94 L225.40 359.93 L225.60 359.92 L225.80 359.91 L226.00 359.89 L226.20 359.88 L226.40 359.86 L226.60 359.85 L226.80 359.83 L227.00 359.82 L227.20 359.80 L227.40 359.78 L227.60 359.76 L227.80 359.74 L228.00 359.71 L228.20 359.69 L228.40 359.66 L228.60 359.64 L228.80 359.61 L229.00 359.58 L229.20 359.54 L229.40 359.51 L229.60 359.47 L229.80 359.43 L230.00 359.39 L230.20 359.35 L230.40 359.30 L230.60 359.25 L230.80 359.19 L231.00 359.13 L231.20 359.07 L231.40 359.00 L231.60 358.92 L231.80 358.84 L232.00 358.76 L232.20 358.66 L232.40 358.56 L232.60 358.45 L232.80 358.33 L233.00 358.20 L233.20 358.05 L233.40 357.89 L233.60 357.71 L233.80 357.52 L234.00 357.30 L234.20 357.06 L234.40 356.79 L234.60 356.49 L234.80 356.15 L235.00 355.77 L235.20 355.35 L235.40 354.86 L235.60 354.31 L235.80 353.68 L236.00 352.97 L236.20 352.15 L236.40 351.21 L236.60 350.14 L236.80 348.92 L237.00 347.54 L237.20 345.98 L237.40 344.26 L237.60 342.39 L237.80 340.44 L238.00 338.50 L238.20 336.70 L238.40 335.23 L238.60 334.26 L238.80 333.92 L239.00 334.26 L239.20 335.23 L239.40 336.70 L239.60 338.50 L239.80 340.44 L240.00 342.39 L240.20 344.26 L240.40 345.98 L240.60 347.54 L240.80 348.93 L241.00 350.15 L241.20 351.22 L241.40 352.16 L241.60 352.97 L241.80 353.69 L242.00 354.32 L242.20 354.87 L242.40 355.35 L242.60 355.78 L242.80 356.16 L243.00 356.50 L243.20 356.80 L243.40 357.07 L243.60 357.31 L243.80 357.53 L244.00 357.72 L244.20 357.90 L244.40 358.06 L244.60 358.21 L244.80 358.34 L245.00 358.46 L245.20 358.57 L245.40 358.67 L245.60 358.77 L245.80 358.86 L246.00 358.94 L246.20 359.01 L246.40 359.08 L246.60 359.14 L246.80 359.20 L247.00 359.26 L247.20 359.31 L247.40 359.35 L247.60 359.40 L247.80 359.44 L248.00 359.48 L248.20 359.51 L248.40 359.55 L248.60 359.58 L248.80 359.61 L249.00 359.63 L249.20 359.66 L249.40 359.68 L249.60 359.70 L249.80 359.72 L250.00 359.74 L250.20 359.75 L250.40 359.76 L250.60 359.77 L250.80 359.78 L251.00 359.79 L251.20 359.79 L251.40 359.79 L251.60 359.79 L251.80 359.79 L252.00 359.79 L252.20 359.80 L252.40 359.80 L252.60 359.81 L252.80 359.83 L253.00 359.84 L253.20 359.87 L253.40 359.89 L253.60 359.92 L253.80 359.94 L254.00 359.96 L254.20 359.98 L254.40 360.01 L254.60 360.02 L254.80 360.04 L255.00 360.06 L255.20 360.07 L255.40 360.08 L255.60 360.10 L255.80 360.11 L256.00 360.12 L256.20 360.13 L256.40 360.14 L256.60 360.15 L256.80 360.15 L257.00 360.16 L257.20 360.17 L257.40 360.18 L257.60 360.18 L257.80 360.19 L258.00 360.20 L258.20 360.20 L258.40 360.21 L258.60 360.21 L258.80 360.22 L259.00 360.22 L259.20 360.23 L259.40 360.23 L259.60 360.24 L259.80 360.24 L260.00 360.24 L260.20 360.25 L260.40 360.25 L260.60 360.25 L260.80 360.26 L261.00 360.26 L261.20 360.26 L261.40 360.27 L261.60 360.27 L261.80 360.27 L262.00 360.28 L262.20 360.28 L262.40 360.28 L262.60 360.28 L262.80 360.29 L263.00 360.29 L263.20 360.29 L263.40 360.29 L263.60 360.30 L263.80 360.30 L264.00 360.30 L264.20 360.30 L264.40 360.31 L264.60 360.31 L264.80 360.31 L265.00 360.31 L265.20 360.31 L265.40 360.32 L265.60 360.32 L265.80 360.32 L266.00 360.32 L266.20 360.32 L266.40 360.32 L266.60 360.33 L266.80 360.33 L267.00 360.33 L267.20 360.33 L267.40 360.33 L267.60 360.33 L267.80 360.33 L268.00 360.34 L268.20 360.34 L268.40 360.34 L268.60 360.34 L268.80 360.34 L269.00 360.34 L269.20 360.34 L269.40 360.34 L269.60 360.35 L269.80 360.35 L270.00 360.35 L270.20 360.35 L270.40 360.35 L270.60 360.35 L270.80 360.35 L271.00 360.35 L271.20 360.35 L271.40 360.35 L271.60 360.36 L271.80 360.36 L272.00 360.36 L272.20 360.36 L272.40 360.36 L272.60 360.36 L272.80 360.36 L273.00 360.36 L273.20 360.36 L273.40 360.36 L273.60 360.36 L273.80 360.36 L274.00 360.36 L274.20 360.37 L274.40 360.37 L274.60 360.37 L274.80 360.37 L275.00 360.37 L275.20 360.37 L275.40 360.37 L275.60 360.37 L275.80 360.37 L276.00 360.37 L276.20 360.37 L276.40 360.37 L276.60 360.37 L276.80 360.37 L277.00 360.37 L277.20 360.37 L277.40 360.37 L277.60 360.38 L277.80 360.38 L278.00 360.38 L278.20 360.38 L278.40 360.38 L278.60 360.38 L278.80 360.38 L279.00 360.38 L279.20 360.38 L279.40 360.38 L279.60 360.38 L279.80 360.38 L280.00 360.38 L280.20 360.38 L280.40 360.38 L280.60 360.38 L280.80 360.38 L281.00 360.38 L281.20 360.38 L281.40 360.38 L281.60 360.38 L281.80 360.38 L282.00 360.38 L282.20 360.38 L282.40 360.38 L282.60 360.38 L282.80 360.38 L283.00 360.39 L283.20 360.39 L283.40 360.39 L283.60 360.39 L283.80 360.39 L284.00 360.39 L284.20 360.39 L284.40 360.39 L284.60 360.39 L284.80 360.39 L285.00 360.39 L285.20 360.39 L285.40 360.39 L285.60 360.39 L285.80 360.39 L286.00 360.39 L286.20 360.39 L286.40 360.39 L286.60 360.39 L286.80 360.39 L287.00 360.39 L287.20 360.39 L287.40 360.39 L287.60 360.39 L287.80 360.39 L288.00 360.39 L288.20 360.39 L288.40 360.39 L288.60 360.39 L288.80 360.39 L289.00 360.39 L289.20 360.39 L289.40 360.39 L289.60 360.39 L289.80 360.39 L290.00 360.39 L290.20 360.39 L290.40 360.39 L290.60 360.39 L290.80 360.39 L291.00 360.39 L291.20 360.39 L291.40 360.39 L291.60 360.39 L291.80 360.39 L292.00 360.39 L292.20 360.39 L292.40 360.39 L292.60 360.39 L292.80 360.39 L293.00 360.39 L293.20 360.39 L293.40 360.39 L293.60 360.39 L293.80 360.39 L294.00 360.39 L294.20 360.39 L294.40 360.39 L294.60 360.39 L294.80 360.39 L295.00 360.39 L295.20 360.39 L295.40 360.39 L295.60 360.39 L295.80 360.39 L296.00 360.39 L296.20 360.39 L296.40 360.39 L296.60 360.39 L296.80 360.39 L297.00 360.39 L297.20 360.39 L297.40 360.39 L297.60 360.39 L297.80 360.39 L298.00 360.39 L298.20 360.39 L298.40 360.39 L298.60 360.39 L298.80 360.39 L299.00 360.39 L299.20 360.39 L299.40 360.39 L299.60 360.39 L299.80 360.39 L300.00 360.39 L300.20 360.39 L300.40 360.39 L300.60 360.39 L300.80 360.39 L301.00 360.39 L301.20 360.38 L301.40 360.38 L301.60 360.38 L301.80 360.38 L302.00 360.38 L302.20 360.38 L302.40 360.38 L302.60 360.38 L302.80 360.38 L303.00 360.38 L303.20 360.38 L303.40 360.38 L303.60 360.38 L303.80 360.38 L304.00 360.38 L304.20 360.38 L304.40 360.38 L304.60 360.38 L304.80 360.38 L305.00 360.38 L305.20 360.38 L305.40 360.38 L305.60 360.38 L305.80 360.38 L306.00 360.38 L306.20 360.38 L306.40 360.38 L306.60 360.38 L306.80 360.38 L307.00 360.38 L307.20 360.38 L307.40 360.38 L307.60 360.37 L307.80 360.37 L308.00 360.37 L308.20 360.37 L308.40 360.37 L308.60 360.37 L308.80 360.37 L309.00 360.37 L309.20 360.37 L309.40 360.37 L309.60 360.37 L309.80 360.37 L310.00 360.37 L310.20 360.37 L310.40 360.37 L310.60 360.37 L310.80 360.37 L311.00 360.37 L311.20 360.37 L311.40 360.37 L311.60 360.37 L311.80 360.36 L312.00 360.36 L312.20 360.36 L312.40 360.36 L312.60 360.36 L312.80 360.36 L313.00 360.36 L313.20 360.36 L313.40 360.36 L313.60 360.36 L313.80 360.36 L314.00 360.36 L314.20 360.36 L314.40 360.36 L314.60 360.36 L314.80 360.36 L315.00 360.35 L315.20 360.35 L315.40 360.35 L315.60 360.35 L315.80 360.35 L316.00 360.35 L316.20 360.35 L316.40 360.35 L316.60 360.35 L316.80 360.35 L317.00 360.35 L317.20 360.35 L317.40 360.35 L317.60 360.34 L317.80 360.34 L318.00 360.34 L318.20 360.34 L318.40 360.34 L318.60 360.34 L318.80 360.34 L319.00 360.34 L319.20 360.34 L319.40 360.34 L319.60 360.34 L319.80 360.33 L320.00 360.33 L320.20 360.33 L320.40 360.33 L320.60 360.33 L320.80 360.33 L321.00 360.33 L321.20 360.33 L321.40 360.33 L321.60 360.32 L321.80 360.32 L322.00 360.32 L322.20 360.32 L322.40 360.32 L322.60 360.32 L322.80 360.32 L323.00 360.32 L323.20 360.31 L323.40 360.31 L323.60 360.31 L323.80 360.31 L324.00 360.31 L324.20 360.31 L324.40 360.31 L324.60 360.30 L324.80 360.30 L325.00 360.30 L325.20 360.30 L325.40 360.30 L325.60 360.30 L325.80 360.30 L326.00 360.29 L326.20 360.29 L326.40 360.29 L326.60 360.29 L326.80 360.29 L327.00 360.28 L327.20 360.28 L327.40 360.28 L327.60 360.28 L327.80 360.28 L328.00 360.27 L328.20 360.27 L328.40 360.27 L328.60 360.27 L328.80 360.27 L329.00 360.26 L329.20 360.26 L329.40 360.26 L329.60 360.26 L329.80 360.25 L330.00 360.25 L330.20 360.25 L330.40 360.25 L330.60 360.24 L330.80 360.24 L331.00 360.24 L331.20 360.23 L331.40 360.23 L331.60 360.23 L331.80 360.23 L332.00 360.22 L332.20 360.22 L332.40 360.21 L332.60 360.21 L332.80 360.21 L333.00 360.20 L333.20 360.20 L333.40 360.20 L333.60 360.19 L333.80 360.19 L334.00 360.18 L334.20 360.18 L334.40 360.17 L334.60 360.17 L334.80 360.16 L335.00 360.16 L335.20 360.15 L335.40 360.15 L335.60 360.14 L335.80 360.14 L336.00 360.13 L336.20 360.12 L336.40 360.12 L336.60 360.11 L336.80 360.10 L337.00 360.09 L337.20 360.08 L337.40 360.08 L337.60 360.07 L337.80 360.06 L338.00 360.05 L338.20 360.04 L338.40 360.03 L338.60 360.02 L338.80 360.00 L339.00 359.99 L339.20 359.98 L339.40 359.96 L339.60 359.95 L339.80 359.93 L340.00 359.91 L340.20 359.89 L340.40 359.87 L340.60 359.85 L340.80 359.83 L341.00 359.81 L341.20 359.78 L341.40 359.75 L341.60 359.72 L341.80 359.68 L342.00 359.65 L342.20 359.61 L342.40 359.56 L342.60 359.51 L342.80 359.46 L343.00 359.40 L343.20 359.33 L343.40 359.25 L343.60 359.17 L343.80 359.08 L344.00 358.97 L344.20 358.85 L344.40 358.71 L344.60 358.56 L344.80 358.38 L345.00 358.18 L345.20 357.95 L345.40 357.68 L345.60 357.39 L345.80 357.05 L346.00 356.68 L346.20 356.29 L346.40 355.87 L346.60 355.45 L346.80 355.07 L347.00 354.75 L347.20 354.54 L347.40 354.46 L347.60 354.53 L347.80 354.73 L348.00 355.03 L348.20 355.41 L348.40 355.81 L348.60 356.22 L348.80 356.61 L349.00 356.96 L349.20 357.29 L349.40 357.57 L349.60 357.82 L349.80 358.04 L350.00 358.23 L350.20 358.40 L350.40 358.54 L350.60 358.67 L350.80 358.78 L351.00 358.87 L351.20 358.95 L351.40 359.03 L351.60 359.09 L351.80 359.14 L352.00 359.19 L352.20 359.23 L352.40 359.27 L352.60 359.30 L352.80 359.33 L353.00 359.35 L353.20 359.37 L353.40 359.39 L353.60 359.40 L353.80 359.42 L354.00 359.43 L354.20 359.44 L354.40 359.44 L354.60 359.45 L354.80 359.45 L355.00 359.45 L355.20 359.45 L355.40 359.45 L355.60 359.45 L355.80 359.44 L356.00 359.44 L356.20 359.43 L356.40 359.43 L356.60 359.42 L356.80 359.41 L357.00 359.40 L357.20 359.39 L357.40 359.38 L357.60 359.36 L357.80 359.35 L358.00 359.33 L358.20 359.32 L358.40 359.30 L358.60 359.28 L358.80 359.27 L359.00 359.25 L359.20 359.23 L359.40 359.20 L359.60 359.18 L359.80 359.16 L360.00 359.13 L360.20 359.11 L360.40 359.08 L360.60 359.05 L360.80 359.02 L361.00 358.99 L361.20 358.96 L361.40 358.92 L361.60 358.89 L361.80 358.85 L362.00 358.81 L362.20 358.77 L362.40 358.73 L362.60 358.69 L362.80 358.64 L363.00 358.59 L363.20 358.54 L363.40 358.49 L363.60 358.44 L363.80 358.38 L364.00 358.32 L364.20 358.26 L364.40 358.19 L364.60 358.12 L364.80 358.05 L365.00 357.97 L365.20 357.89 L365.40 357.81 L365.60 357.72 L365.80 357.63 L366.00 357.53 L366.20 357.43 L366.40 357.32 L366.60 357.20 L366.80 357.08 L367.00 356.95 L367.20 356.81 L367.40 356.67 L367.60 356.51 L367.80 356.35 L368.00 356.17 L368.20 355.99 L368.40 355.79 L368.60 355.58 L368.80 355.35 L369.00 355.11 L369.20 354.85 L369.40 354.57 L369.60 354.27 L369.80 353.95 L370.00 353.60 L370.20 353.22 L370.40 352.81 L370.60 352.36 L370.80 351.88 L371.00 351.35 L371.20 350.78 L371.40 350.15 L371.60 349.46 L371.80 348.69 L372.00 347.85 L372.20 346.92 L372.40 345.89 L372.60 344.74 L372.80 343.46 L373.00 342.02 L373.20 340.41 L373.40 338.59 L373.60 336.53 L373.80 334.20 L374.00 331.55 L374.20 328.53 L374.40 325.08 L374.60 321.12 L374.80 316.60 L375.00 311.44 L375.20 305.56 L375.40 298.92 L375.60 291.51 L375.80 283.39 L376.00 274.73 L376.20 265.88 L376.40 257.36 L376.60 249.89 L376.80 244.27 L377.00 241.25 L377.20 241.25 L377.40 244.27 L377.60 249.89 L377.80 257.36 L378.00 265.88 L378.20 274.73 L378.40 283.39 L378.60 291.52 L378.80 298.93 L379.00 305.57 L379.20 311.45 L379.40 316.61 L379.60 321.13 L379.80 325.08 L380.00 328.54 L380.20 331.56 L380.40 334.21 L380.60 336.54 L380.80 338.60 L381.00 340.42 L381.20 342.03 L381.40 343.47 L381.60 344.75 L381.80 345.90 L382.00 346.94 L382.20 347.87 L382.40 348.71 L382.60 349.47 L382.80 350.16 L383.00 350.79 L383.20 351.37 L383.40 351.90 L383.60 352.38 L383.80 352.83 L384.00 353.24 L384.20 353.62 L384.40 353.97 L384.60 354.29 L384.80 354.59 L385.00 354.87 L385.20 355.13 L385.40 355.38 L385.60 355.60 L385.80 355.82 L386.00 356.02 L386.20 356.20 L386.40 356.38 L386.60 356.54 L386.80 356.70 L387.00 356.84 L387.20 356.98 L387.40 357.11 L387.60 357.24 L387.80 357.35 L388.00 357.46 L388.20 357.57 L388.40 357.67 L388.60 357.76 L388.80 357.85 L389.00 357.94 L389.20 358.02 L389.40 358.10 L389.60 358.17 L389.80 358.24 L390.00 358.31 L390.20 358.37 L390.40 358.43 L390.60 358.49 L390.80 358.55 L391.00 358.60 L391.20 358.65 L391.40 358.70 L391.60 358.75 L391.80 358.80 L392.00 358.84 L392.20 358.88 L392.40 358.92 L392.60 358.96 L392.80 359.00 L393.00 359.04 L393.20 359.07 L393.40 359.11 L393.60 359.14 L393.80 359.17 L394.00 359.20 L394.20 359.23 L394.40 359.26 L394.60 359.28 L394.80 359.31 L395.00 359.34 L395.20 359.36 L395.40 359.39 L395.60 359.41 L395.80 359.43 L396.00 359.45 L396.20 359.47 L396.40 359.49 L396.60 359.51 L396.80 359.53 L397.00 359.55 L397.20 359.57 L397.40 359.59 L397.60 359.60 L397.80 359.62 L398.00 359.64 L398.20 359.65 L398.40 359.67 L398.60 359.68 L398.80 359.70 L399.00 359.71 L399.20 359.72 L399.40 359.74 L399.60 359.75 L399.80 359.76 L400.00 359.77 L400.20 359.79 L400.40 359.80 L400.60 359.81 L400.80 359.82 L401.00 359.83 L401.20 359.84 L401.40 359.85 L401.60 359.86 L401.80 359.87 L402.00 359.88 L402.20 359.89 L402.40 359.90 L402.60 359.91 L402.80 359.92 L403.00 359.92 L403.20 359.93 L403.40 359.94 L403.60 359.95 L403.80 359.96 L404.00 359.96 L404.20 359.97 L404.40 359.98 L404.60 359.98 L404.80 359.99 L405.00 360.00 L405.20 360.00 L405.40 360.01 L405.60 360.02 L405.80 360.02 L406.00 360.03 L406.20 360.04 L406.40 360.04 L406.60 360.05 L406.80 360.05 L407.00 360.06 L407.20 360.06 L407.40 360.07 L407.60 360.07 L407.80 360.08 L408.00 360.08 L408.20 360.09 L408.40 360.09 L408.60 360.10 L408.80 360.10 L409.00 360.11 L409.20 360.11 L409.40 360.11 L409.60 360.12 L409.80 360.12 L410.00 360.13 L410.20 360.13 L410.40 360.13 L410.60 360.14 L410.80 360.14 L411.00 360.14 L411.20 360.15 L411.40 360.15 L411.60 360.15 L411.80 360.16 L412.00 360.16 L412.20 360.16 L412.40 360.17 L412.60 360.17 L412.80 360.17 L413.00 360.18 L413.20 360.18 L413.40 360.18 L413.60 360.18 L413.80 360.19 L414.00 360.19 L414.20 360.19 L414.40 360.20 L414.60 360.20 L414.80 360.20 L415.00 360.20 L415.20 360.21 L415.40 360.21 L415.60 360.21 L415.80 360.21 L416.00 360.21 L416.20 360.22 L416.40 360.22 L416.60 360.22 L416.80 360.22 L417.00 360.22 L417.20 360.23 L417.40 360.23 L417.60 360.23 L417.80 360.23 L418.00 360.23 L418.20 360.23 L418.40 360.24 L418.60 360.24 L418.80 360.24 L419.00 360.24 L419.20 360.24 L419.40 360.24 L419.60 360.24 L419.80 360.25 L420.00 360.25 L420.20 360.25 L420.40 360.25 L420.60 360.25 L420.80 360.25 L421.00 360.25 L421.20 360.25 L421.40 360.26 L421.60 360.26 L421.80 360.26 L422.00 360.26 L422.20 360.26 L422.40 360.26 L422.60 360.26 L422.80 360.26 L423.00 360.26 L423.20 360.26 L423.40 360.26 L423.60 360.26 L423.80 360.26 L424.00 360.26 L424.20 360.27 L424.40 360.27 L424.60 360.27 L424.80 360.27 L425.00 360.27 L425.20 360.27 L425.40 360.27 L425.60 360.27 L425.80 360.27 L426.00 360.27 L426.20 360.27 L426.40 360.27 L426.60 360.27 L426.80 360.27 L427.00 360.27 L427.20 360.26 L427.40 360.26 L427.60 360.26 L427.80 360.26 L428.00 360.26 L428.20 360.26 L428.40 360.26 L428.60 360.26 L428.80 360.26 L429.00 360.26 L429.20 360.26 L429.40 360.25 L429.60 360.25 L429.80 360.25 L430.00 360.25 L430.20 360.25 L430.40 360.25 L430.60 360.24 L430.80 360.24 L431.00 360.24 L431.20 360.24 L431.40 360.23 L431.60 360.23 L431.80 360.23 L432.00 360.22 L432.20 360.22 L432.40 360.22 L432.60 360.21 L432.80 360.21 L433.00 360.21 L433.20 360.20 L433.40 360.20 L433.60 360.19 L433.80 360.18 L434.00 360.18 L434.20 360.17 L434.40 360.17 L434.60 360.16 L434.80 360.15 L435.00 360.14 L435.20 360.13 L435.40 360.12 L435.60 360.11 L435.80 360.10 L436.00 360.09 L436.20 360.08 L436.40 360.06 L436.60 360.05 L436.80 360.03 L437.00 360.02 L437.20 360.00 L437.40 359.98 L437.60 359.95 L437.80 359.93 L438.00 359.90 L438.20 359.88 L438.40 359.84 L438.60 359.81 L438.80 359.77 L439.00 359.73 L439.20 359.68 L439.40 359.63 L439.60 359.57 L439.80 359.51 L440.00 359.44 L440.20 359.35 L440.40 359.26 L440.60 359.16 L440.80 359.04 L441.00 358.91 L441.20 358.75 L441.40 358.58 L441.60 358.38 L441.80 358.15 L442.00 357.89 L442.20 357.60 L442.40 357.26 L442.60 356.90 L442.80 356.50 L443.00 356.08 L443.20 355.67 L443.40 355.29 L443.60 354.97 L443.80 354.76 L444.00 354.69 L444.20 354.76 L444.40 354.96 L444.60 355.26 L444.80 355.64 L445.00 356.04 L445.20 356.45 L445.40 356.84 L445.60 357.19 L445.80 357.52 L446.00 357.80 L446.20 358.05 L446.40 358.27 L446.60 358.46 L446.80 358.62 L447.00 358.76 L447.20 358.88 L447.40 358.98 L447.60 359.07 L447.80 359.14 L448.00 359.20 L448.20 359.26 L448.40 359.30 L448.60 359.33 L448.80 359.35 L449.00 359.37 L449.20 359.38 L449.40 359.38 L449.60 359.38 L449.80 359.36 L450.00 359.34 L450.20 359.31 L450.40 359.27 L450.60 359.22 L450.80 359.15 L451.00 359.08 L451.20 358.99 L451.40 358.88 L451.60 358.75 L451.80 358.61 L452.00 358.43 L452.20 358.24 L452.40 358.01 L452.60 357.76 L452.80 357.49 L453.00 357.21 L453.20 356.92 L453.40 356.66 L453.60 356.45 L453.80 356.31 L454.00 356.26 L454.20 356.32 L454.40 356.47 L454.60 356.70 L454.80 356.98 L455.00 357.28 L455.20 357.58 L455.40 357.86 L455.60 358.13 L455.80 358.37 L456.00 358.58 L456.20 358.77 L456.40 358.93 L456.60 359.08 L456.80 359.21 L457.00 359.32 L457.20 359.42 L457.40 359.50 L457.60 359.58 L457.80 359.65 L458.00 359.71 L458.20 359.76 L458.40 359.81 L458.60 359.85 L458.80 359.89 L459.00 359.92 L459.20 359.96 L459.40 359.99 L459.60 360.01 L459.80 360.04 L460.00 360.06 L460.20 360.08 L460.40 360.10 L460.60 360.11 L460.80 360.13 L461.00 360.14 L461.20 360.16 L461.40 360.17 L461.60 360.18 L461.80 360.19 L462.00 360.21 L462.20 360.21 L462.40 360.22 L462.60 360.23 L462.80 360.24 L463.00 360.25 L463.20 360.26 L463.40 360.26 L463.60 360.27 L463.80 360.28 L464.00 360.28 L464.20 360.29 L464.40 360.29 L464.60 360.30 L464.80 360.30 L465.00 360.31 L465.20 360.31 L465.40 360.31 L465.60 360.32 L465.80 360.32 L466.00 360.33 L466.20 360.33 L466.40 360.33 L466.60 360.34 L466.80 360.34 L467.00 360.34 L467.20 360.35 L467.40 360.35 L467.60 360.35 L467.80 360.35 L468.00 360.36 L468.20 360.36 L468.40 360.36 L468.60 360.36 L468.80 360.36 L469.00 360.37 L469.20 360.37 L469.40 360.37 L469.60 360.37 L469.80 360.37 L470.00 360.38 L470.20 360.38 L470.40 360.38 L470.60 360.38 L470.80 360.38 L471.00 360.38 L471.20 360.39 L471.40 360.39 L471.60 360.39 L471.80 360.39 L472.00 360.39 L472.20 360.39 L472.40 360.39 L472.60 360.40 L472.80 360.40 L473.00 360.40 L473.20 360.40 L473.40 360.40 L473.60 360.40 L473.80 360.40 L474.00 360.40 L474.20 360.40 L474.40 360.41 L474.60 360.41 L474.80 360.41 L475.00 360.41 L475.20 360.41 L475.40 360.41 L475.60 360.41 L475.80 360.41 L476.00 360.41 L476.20 360.41 L476.40 360.41 L476.60 360.41 L476.80 360.42 L477.00 360.42 L477.20 360.42 L477.40 360.42 L477.60 360.42 L477.80 360.42 L478.00 360.42 L478.20 360.42 L478.40 360.42 L478.60 360.42 L478.80 360.42 L479.00 360.42 L479.20 360.42 L479.40 360.42 L479.60 360.43 L479.80 360.43 L480.00 360.43 L480.20 360.43 L480.40 360.43 L480.60 360.43 L480.80 360.43 L481.00 360.43 L481.20 360.43 L481.40 360.43 L481.60 360.43 L481.80 360.43 L482.00 360.43 L482.20 360.43 L482.40 360.43 L482.60 360.43 L482.80 360.43 L483.00 360.43 L483.20 360.43 L483.40 360.43 L483.60 360.44 L483.80 360.44 L484.00 360.44 L484.20 360.44 L484.40 360.44 L484.60 360.44 L484.80 360.44 L485.00 360.44 L485.20 360.44 L485.40 360.44 L485.60 360.44 L485.80 360.44 L486.00 360.44 L486.20 360.44 L486.40 360.44 L486.60 360.44 L486.80 360.44 L487.00 360.44 L487.20 360.44 L487.40 360.44 L487.60 360.44 L487.80 360.44 L488.00 360.44 L488.20 360.44 L488.40 360.44 L488.60 360.44 L488.80 360.44 L489.00 360.44 L489.20 360.45 L489.40 360.45 L489.60 360.45 L489.80 360.45 L490.00 360.45 L490.20 360.45 L490.40 360.45 L490.60 360.45 L490.80 360.45 L491.00 360.45 L491.20 360.45 L491.40 360.45 L491.60 360.45 L491.80 360.45 L492.00 360.45 L492.20 360.45 L492.40 360.45 L492.60 360.45 L492.80 360.45 L493.00 360.45 L493.20 360.45 L493.40 360.45 L493.60 360.45 L493.80 360.45 L494.00 360.45 L494.20 360.45 L494.40 360.45 L494.60 360.45 L494.80 360.45 L495.00 360.45 L495.20 360.45 L495.40 360.45 L495.60 360.45 L495.80 360.45 L496.00 360.45 L496.20 360.45 L496.40 360.45 L496.60 360.45 L496.80 360.45 L497.00 360.45 L497.20 360.45 L497.40 360.46 L497.60 360.46 L497.80 360.46 L498.00 360.46 L498.20 360.46 L498.40 360.46 L498.60 360.46 L498.80 360.46 L499.00 360.46 L499.20 360.46 L499.40 360.46 L499.60 360.46 L499.80 360.46 L500.00 360.46 L500.20 360.46 " fill="none" stroke="#000" stroke-width="1.4" stroke-linejoin="round"/>
<g font-family="'Liberation Sans',Arial,sans-serif" font-size="13.4" text-anchor="middle" fill="#000" stroke="#000" stroke-width="0.2">
<text x="16.50" y="400.6">0</text>
<text x="73.46" y="400.6">100</text>
<text x="130.42" y="400.6">200</text>
<text x="187.38" y="400.6">300</text>
<text x="244.34" y="400.6">400</text>
<text x="301.30" y="400.6">500</text>
<text x="358.26" y="400.6">600</text>
<text x="415.22" y="400.6">700</text>
<text x="472.18" y="400.6">800</text>
</g>
<text x="189.2" y="430.8" font-family="'Liberation Sans',Arial,sans-serif" font-size="16.6" letter-spacing="0.23" fill="#000">Raman shift (cm<tspan font-size="10.2" dy="-8.2" dx="0.4">-1</tspan><tspan dy="8.2">)</tspan></text>
<text transform="translate(436.6,55.1) scale(1.1,1)" font-family="'Liberation Sans',Arial,sans-serif" font-size="24" fill="#000">TeO</text>
<text transform="translate(484.6,67) scale(1.06,1)" font-family="'Liberation Sans',Arial,sans-serif" font-size="14.6" fill="#000">2</text>
<g font-family="'Liberation Serif','Times New Roman',serif" font-size="16.5" fill="#000">
<text x="0" y="182">(a)</text>
<text x="5" y="349.5">(b)</text>
</g>
<g font-family="'Liberation Sans',Arial,sans-serif" font-style="italic" font-size="10.8" fill="#000" stroke="#000" stroke-width="0.22">
<text x="48.0" y="10.0">13</text>
<text x="82.0" y="10.0">12</text>
<text x="100.0" y="10.0">11</text>
<text x="113.5" y="169.8">10</text>
<text x="139.8" y="197.2">9</text>
<text x="151.8" y="196.0">8</text>
<text x="178.3" y="199.6">7</text>
<text x="209.0" y="197.6">6</text>
<text x="239.6" y="164.5">5</text>
<text x="352.2" y="186.7">4</text>
<text x="385.0" y="9.5">3</text>
<text x="449.7" y="190.5">2</text>
<text x="462.4" y="192.8">1</text>
<text x="46.6" y="329.0">13</text>
<text x="80.6" y="265.6">12</text>
<text x="96.0" y="246.0">11</text>
<text x="118.0" y="336.0">10</text>
<text x="139.0" y="349.4">9</text>
<text x="154.0" y="348.8">8</text>
<text x="184.4" y="348.0">7</text>
<text x="206.0" y="344.4">6</text>
<text x="236.6" y="326.6">5</text>
<text x="351.0" y="345.0">4</text>
<text x="373.0" y="236.4">3</text>
<text x="441.0" y="346.6">2</text>
<text x="455.0" y="348.0">1</text>
</g>
<g font-family="'Liberation Serif','Times New Roman',serif" font-style="italic" font-size="13.6" fill="#000" stroke="#000" stroke-width="0.15">
<text x="124.9" y="155.4">E(LO)</text>
<text x="411.2" y="164.8">E(LO)</text>
</g>
<path d="M129.90 160.30 V180.90" stroke="#777" stroke-width="1.2"/><path d="M129.90 188.70 l-2.40 -8.80 h4.80 z" fill="#000"/>
<path d="M425.30 169.00 V189.60" stroke="#111" stroke-width="1.2"/><path d="M425.30 198.10 l-2.50 -9.50 h5.00 z" fill="#000"/>
<rect x="453.4" y="238.4" width="28" height="11.2" fill="#ff0000"/>
<text x="484.2" y="248.0" font-family="'Liberation Sans',Arial,sans-serif" font-size="10.3" fill="#000">A1</text>
<rect x="453.4" y="254.0" width="28" height="11.2" fill="#0000ff"/>
<text x="484.2" y="263.6" font-family="'Liberation Sans',Arial,sans-serif" font-size="10.3" fill="#000">B2</text>
<rect x="453.4" y="269.4" width="28" height="11.2" fill="#00ffff"/>
<text x="484.2" y="279.0" font-family="'Liberation Sans',Arial,sans-serif" font-size="10.3" fill="#000">B1</text>
<rect x="453.4" y="284.8" width="28" height="11.2" fill="#ff00ff"/>
<text x="484.2" y="294.4" font-family="'Liberation Sans',Arial,sans-serif" font-size="10.3" fill="#000">E</text>
</svg>
</body></html>
